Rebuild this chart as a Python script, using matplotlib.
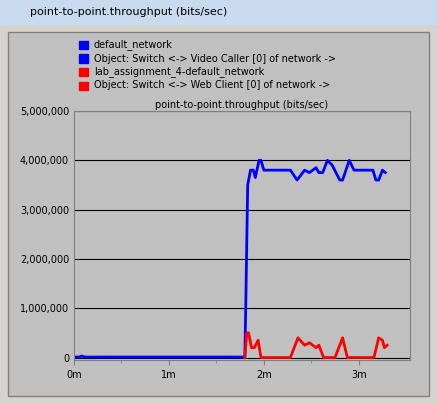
import matplotlib
matplotlib.use("Agg")
import matplotlib.pyplot as plt
from matplotlib.patches import Rectangle

blue_x = [0, 0.05, 0.08, 0.12, 1.80, 1.81, 1.82, 1.83, 1.86, 1.89, 1.91, 1.95, 1.97, 2.00, 2.28, 2.35, 2.43, 2.48, 2.55, 2.58, 2.62, 2.67, 2.72, 2.80, 2.83, 2.90, 2.95, 3.15, 3.18, 3.21, 3.25, 3.28]
blue_y = [10000, 10000, 30000, 10000, 10000, 1100000, 2300000, 3500000, 3800000, 3800000, 3650000, 4000000, 4000000, 3800000, 3800000, 3600000, 3800000, 3750000, 3850000, 3750000, 3750000, 4000000, 3900000, 3600000, 3600000, 4000000, 3800000, 3800000, 3600000, 3600000, 3800000, 3750000]
red_x = [1.80, 1.82, 1.84, 1.87, 1.90, 1.94, 1.97, 2.28, 2.36, 2.43, 2.48, 2.55, 2.58, 2.63, 2.75, 2.83, 2.88, 3.16, 3.21, 3.25, 3.27, 3.30]
red_y = [0, 500000, 500000, 200000, 200000, 350000, 0, 0, 400000, 250000, 300000, 200000, 250000, 0, 0, 400000, 0, 0, 400000, 350000, 200000, 250000]
legend_labels = ["default_network", "Object: Switch <-> Video Caller [0] of network ->",
                 "lab_assignment_4-default_network", "Object: Switch <-> Web Client [0] of network ->"]
legend_colors = ["#0000ff", "#0000ff", "#ff0000", "#ff0000"]
y_ticks = [0, 1000000, 2000000, 3000000, 4000000, 5000000]
x_ticks = [0, 1, 2, 3]
x_labels = ["0m", "1m", "2m", "3m"]

W, H = 437, 404
fig = plt.figure(figsize=(W/100, H/100), dpi=100)
fig.patch.set_facecolor("#d6d3ce")
# title bar
fig.add_artist(Rectangle((0, 1-24/H), 1, 24/H, transform=fig.transFigure, color="#c9d9ee", zorder=0))
fig.text(30/W, 1-12/H, "point-to-point.throughput (bits/sec)", fontsize=8, va="center", family="DejaVu Sans")
# inner frame
fig.add_artist(Rectangle((8/W, 8/H), (W-16)/W, (H-40)/H, transform=fig.transFigure,
                         facecolor="#c0c0c0", edgecolor="#808080", lw=1, zorder=0))

ax = fig.add_axes([74/W, 1-360/H, (410-74)/W, (360-111)/H])
ax.set_facecolor("#c0c0c0")
ax.plot(blue_x, blue_y, color="#0000ff", lw=2)
ax.plot(red_x, red_y, color="#ff0000", lw=2)
ax.set_xlim(0, 3.54)
ax.set_ylim(-50000, 5000000)
ax.set_yticks(y_ticks)
ax.set_yticklabels([f"{v:,}" for v in y_ticks], fontsize=7)
ax.set_xticks(x_ticks)
ax.set_xticklabels(x_labels, fontsize=7)
ax.set_xticks([0.5, 1.5, 2.5], minor=True)
ax.tick_params(which="both", direction="out", color="#808080")
ax.tick_params(axis="y", length=0)
ax.grid(axis="y", color="black", lw=0.8)
for s in ax.spines.values():
    s.set_color("#808080")
ax.set_title("point-to-point.throughput (bits/sec)", fontsize=7, pad=2)

for i, (lab, c) in enumerate(zip(legend_labels, legend_colors)):
    yy = 1 - (45 + i*13.5)/H
    fig.add_artist(Rectangle((79/W, yy-4/H), 9/W, 8/H, transform=fig.transFigure, color=c))
    fig.text(94/W, yy, lab, fontsize=7, va="center")

fig.savefig("out.png", dpi=100, facecolor=fig.get_facecolor())
